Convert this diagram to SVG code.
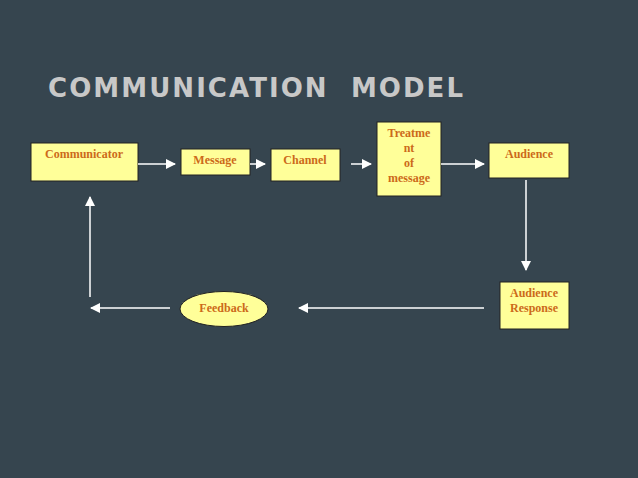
<svg xmlns="http://www.w3.org/2000/svg" width="638" height="478" viewBox="0 0 638 478">
<defs>
<marker id="ah" viewBox="0 0 10 10" refX="9" refY="5" markerWidth="10" markerHeight="10" markerUnits="userSpaceOnUse" orient="auto"><path d="M0,0 L10,5 L0,10 z" fill="#ffffff"/></marker>
<style>
.b{fill:#ffff99;stroke:#222;stroke-width:1}
.t{font-family:"Liberation Serif",serif;font-weight:bold;font-size:12px;fill:#cc6a1a;text-anchor:middle}
.c{stroke:#ffffff;stroke-width:1.5;fill:none;marker-end:url(#ah)}
</style>
</defs>
<rect width="638" height="478" fill="#36454f"/>
<text x="48" y="97" font-family="DejaVu Sans,sans-serif" font-weight="bold" font-size="26" fill="#c8c8c8" textLength="415" xml:space="preserve">COMMUNICATION  MODEL</text>
<g id="communicator"><rect class="b" x="31" y="143" width="107" height="38"/><text class="t" x="84" y="158">Communicator</text></g>
<g id="message"><rect class="b" x="181" y="149" width="69" height="26"/><text class="t" x="215" y="164">Message</text></g>
<g id="channel"><rect class="b" x="271" y="149" width="69" height="32"/><text class="t" x="305" y="164">Channel</text></g>
<g id="treatment"><rect class="b" x="377" y="122" width="64" height="74"/><text class="t" x="409" y="137">Treatme</text><text class="t" x="409" y="152">nt</text><text class="t" x="409" y="167">of</text><text class="t" x="409" y="182">message</text></g>
<g id="audience"><rect class="b" x="489" y="143" width="80" height="35"/><text class="t" x="529" y="158">Audience</text></g>
<g id="response"><rect class="b" x="500" y="282" width="69" height="47"/><text class="t" x="534" y="297">Audience</text><text class="t" x="534" y="312">Response</text></g>
<g id="feedback"><ellipse cx="224" cy="309" rx="44" ry="17.5" fill="#ffff99" stroke="#222"/><text class="t" x="224" y="312" font-size="10">Feedback</text></g>
<g id="connectors">
<line class="c" x1="138" y1="164" x2="175" y2="164"/>
<line class="c" x1="250" y1="164" x2="265" y2="164"/>
<line class="c" x1="351" y1="164" x2="371" y2="164"/>
<line class="c" x1="441" y1="164" x2="484" y2="164"/>
<line class="c" x1="526" y1="180" x2="526" y2="270"/>
<line class="c" x1="484" y1="308" x2="299" y2="308"/>
<line class="c" x1="170" y1="308" x2="91" y2="308"/>
<line class="c" x1="90" y1="297" x2="90" y2="197"/>
</g>
</svg>
